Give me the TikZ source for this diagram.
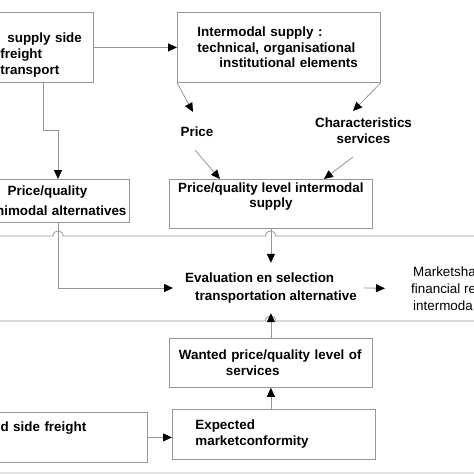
\documentclass[tikz,border=0pt]{standalone}
\usepackage{fontspec}
\setmainfont{Liberation Sans}
\usetikzlibrary{arrows.meta,calc}
\definecolor{framegray}{RGB}{150,150,150}
\definecolor{stripgray}{RGB}{228,228,228}

\begin{document}
\begin{tikzpicture}[x=1pt,y=-1pt,
  box/.style={draw=framegray, line width=0.8pt, align=left, font=\bfseries\fontsize{13.4}{15.8}\selectfont},
  lbl/.style={align=center, inner sep=2pt, font=\bfseries\fontsize{13.4}{15.8}\selectfont},
  conn/.style={draw=framegray, line width=0.8pt, -{Triangle[length=9pt,width=8pt,color=black]}},
  rule/.style={draw=framegray, line width=0.8pt}]
\fill[white] (0,0) rectangle (474,474);
\useasboundingbox (0,0) rectangle (474,474);

% supply side
\node[box, anchor=north west, inner xsep=10pt, inner ysep=2pt, text width=83pt, text height=28.4pt, text depth=37.6pt] (supA) at (-10,12) {\hspace*{7pt}supply side\\freight\\transport};
\node[box, anchor=north west, inner xsep=20pt, text width=163pt, minimum height=70pt] (interB) at (177,12) {Intermodal supply :\\technical, organisational\\\hspace*{22pt}institutional elements};
\node[lbl] (priceL) at (197,132) {Price};
\node[lbl] (charS) at (363.5,131) {Characteristics\\services};
\node[box, align=center, anchor=north west, minimum width=203pt, inner ysep=2pt, text height=26.4pt, text depth=18.6pt] (pqC) at (169,179) {Price/quality level intermodal\\supply};
\node[box, anchor=north east, inner xsep=0.5pt, text width=133pt, minimum height=43pt] (uniD) at (130,179) {\hspace*{11.5pt}Price/quality\\[4.2pt]nimodal alternatives};

% choice
\node[lbl, align=left, anchor=west, inner xsep=12pt, minimum height=50pt] (evalE) at (173,288) {Evaluation en selection\\[2.2pt]\hspace*{10pt}transportation alternative};
\node[anchor=west, align=left, inner sep=0pt, font=\fontsize{13.4}{17}\selectfont] (mktF) at (411,289) {\hspace*{2pt}Marketsha\\financial re\\\hspace*{2pt}intermoda};

% demand side
\node[box, anchor=north west, inner xsep=9.5pt, text width=184pt, minimum height=49pt] (wantW) at (169,338) {Wanted price/quality level of\\\hspace*{47pt}services};
\node[box, anchor=north west, inner xsep=23pt, text width=157pt, minimum height=50pt] (expX) at (172,409) {Expected\\marketconformity};
\node[box, anchor=north east, inner xsep=11pt, inner ysep=2pt, text width=136pt, text height=17.4pt, text depth=28.6pt] (dsideY) at (148,412) {d side freight};

\coordinate (jogA) at (43,130);
\coordinate (jogD) at (58,130);
\coordinate (priceTip) at (193,112);
\coordinate (charTip) at (353,111);
\coordinate (priceTail) at (195,150);
\coordinate (charTail) at (353,157);

\draw[rule] (0,236) -- (53,236) .. controls (53,229.3) and (63,229.3) .. (63,236) -- (265.5,236) .. controls (265.5,229.3) and (275.5,229.3) .. (275.5,236) -- (474,236);
\draw[rule] (0,321) -- (265.5,321) .. controls (265.5,314.3) and (275.5,314.3) .. (275.5,321) -- (474,321);

\draw[conn] (supA.east) -- (interB.west);
\draw[conn] (supA.south -| jogA) -- (jogA) -- (jogD) -- (jogD |- uniD.north);
\draw[conn] (interB.south west) -- (priceTip);
\draw[conn] (interB.south east) -- (charTip);
\draw[conn] (priceTail) -- ($(pqC.north west)!0.25!(pqC.north east)$);
\draw[conn] (charTail) -- ($(pqC.north west)!0.76!(pqC.north east)$);
\draw[conn] (uniD.south -| jogD) -- (jogD |- evalE.west) -- (evalE.west);
\draw[conn] (pqC.south) -- (pqC.south |- evalE.north);
\draw[conn, shorten <=-5pt, shorten >=26pt] (evalE.east) -- (mktF.west);
\draw[conn] (wantW.north) -- (wantW.north |- evalE.south);
\draw[conn] (expX.north -| wantW.south) -- (wantW.south);
\draw[conn] (dsideY.east) -- (dsideY.east -| expX.west);

\fill[stripgray] (0,472) rectangle (474,474);
\end{tikzpicture}
\end{document}
